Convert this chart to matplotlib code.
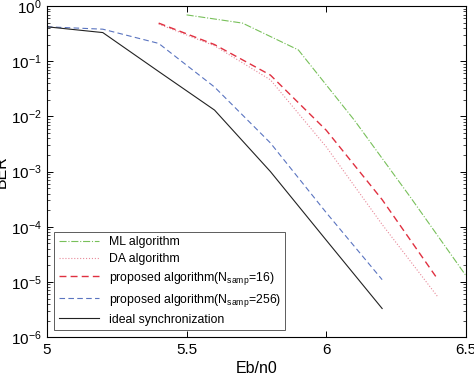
import matplotlib
matplotlib.use('Agg')
import matplotlib.pyplot as plt
from matplotlib.ticker import LogLocator, NullFormatter

plt.rcParams['font.family'] = ['Liberation Sans', 'DejaVu Sans']
plt.rcParams['mathtext.fontset'] = 'custom'
plt.rcParams['mathtext.rm'] = 'Liberation Sans'
plt.rcParams['mathtext.it'] = 'Liberation Sans'

# data
ml_x = [5.5, 5.7, 5.9, 6.1, 6.3, 6.5]
ml_y = [0.69, 0.49, 0.16, 8.6e-3, 3.5e-4, 1.3e-5]

da_x = [5.4, 5.6, 5.8, 6.0, 6.2, 6.4]
da_y = [0.47, 0.19, 0.046, 2.8e-3, 1.1e-4, 5.3e-6]

p16_x = [5.4, 5.6, 5.8, 6.0, 6.2, 6.4]
p16_y = [0.49, 0.20, 0.056, 5.6e-3, 3.1e-4, 1.1e-5]

p256_x = [5.0, 5.2, 5.4, 5.6, 5.8, 6.0, 6.2]
p256_y = [0.42, 0.38, 0.21, 0.034, 3.3e-3, 1.8e-4, 1.1e-5]

ideal_x = [5.0, 5.2, 5.4, 5.6, 5.8, 6.0, 6.2]
ideal_y = [0.42, 0.33, 0.065, 0.013, 1.0e-3, 5.7e-5, 3.3e-6]

fig = plt.figure(figsize=(4.74, 3.75), dpi=100)
ax = fig.add_axes([0.099, 0.101, 0.884, 0.883])

ax.semilogy(ml_x, ml_y, color='#78c05a', linestyle='-.', linewidth=0.8, label='ML algorithm')
ax.semilogy(da_x, da_y, color='#e88a9a', linestyle=':', linewidth=0.8, label='DA algorithm')
ax.semilogy(p16_x, p16_y, color='#e03040', linestyle=(0, (5, 3)), linewidth=1.0,
            label=r'proposed algorithm(N$_{\mathrm{samp}}$=16)')
ax.semilogy(p256_x, p256_y, color='#5a74c0', linestyle=(0, (5, 3)), linewidth=0.8,
            label=r'proposed algorithm(N$_{\mathrm{samp}}$=256)')
ax.semilogy(ideal_x, ideal_y, color='#222222', linestyle='-', linewidth=0.8,
            label='ideal synchronization')

ax.set_xlim(5, 6.5)
ax.set_ylim(1e-6, 1)
ax.set_xticks([5, 5.5, 6, 6.5])
ax.set_xticklabels(['5', '5.5', '6', '6.5'])
ax.yaxis.set_major_locator(LogLocator(base=10, numticks=10))
ax.yaxis.set_minor_locator(LogLocator(base=10, subs=range(2, 10), numticks=20))
ax.yaxis.set_minor_formatter(NullFormatter())

ax.tick_params(which='both', direction='in', top=True, right=True, labelsize=11, pad=4)
ax.tick_params(which='major', length=4, width=0.7)
ax.tick_params(which='minor', length=2, width=0.5)
for s in ax.spines.values():
    s.set_linewidth(0.8)

ax.set_xlabel('Eb/n0', fontsize=11.5, labelpad=3)
ax.set_ylabel('BER', fontsize=11.5, labelpad=1)

leg = ax.legend(loc='lower left', fontsize=8.8, frameon=True, fancybox=False,
                edgecolor='#333333', handlelength=3.3, borderaxespad=0.6,
                labelspacing=0.4, borderpad=0.35)
leg.get_frame().set_linewidth(0.7)

plt.savefig('out.png', dpi=100)
